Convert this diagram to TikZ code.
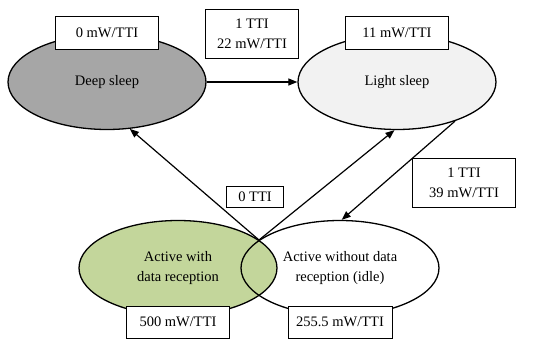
\documentclass[tikz,border=0pt]{standalone}
\usepackage{fontspec}
\setmainfont{Liberation Serif}
\usepackage{xcolor}
\usepackage{tikz}
\usetikzlibrary{arrows.meta, shapes.geometric}
\definecolor{stateDeep}{RGB}{166,166,166}
\definecolor{stateLight}{RGB}{242,242,242}
\definecolor{stateActive}{RGB}{195,214,155}
\tikzset{
  stateNode/.style={
    ellipse,
    draw=black,
    line width=1.3pt,
    inner sep=0pt,
    minimum width=198pt,
    minimum height=95pt,
    align=center,
    font=\fontsize{14.5}{20}\selectfont
  },
  deepNode/.style={stateNode, fill=stateDeep},
  lightNode/.style={stateNode, fill=stateLight},
  activeNode/.style={stateNode, fill=stateActive},
  idleNode/.style={stateNode},
  costBox/.style={
    rectangle,
    draw=black,
    line width=1pt,
    fill=white,
    inner sep=0pt,
    minimum height=33pt,
    align=center,
    font=\fontsize{14.5}{19.5}\selectfont
  },
  stateFlow/.style={-{Triangle[length=9pt,width=7pt]}, line width=1.2pt, draw=black}
}

\begin{document}
\begin{tikzpicture}[x=1pt, y=-1pt]
  \useasboundingbox (0,0) rectangle (550,345);

  \node[deepNode] (deep) at (107,82) {Deep sleep};
  \node[lightNode] (light) at (397,82) {Light sleep};
  \node[activeNode] (active) at (178,268) {Active with\\data reception};
  \node[idleNode] (idle) at (340,268) {Active without data\\reception (idle)};

  \coordinate (meet) at (259,240);

  \draw[stateFlow] (deep) -- (light);
  \draw[stateFlow] (meet) -- (deep.-64);
  \draw[stateFlow] (meet) -- (light.-93);
  \draw[stateFlow] (light.-34) -- (idle.88);

  \node[costBox, minimum width=103pt] (deepCost) at (107,33) {0 mW/TTI};
  \node[costBox, minimum width=103pt] (lightCost) at (397,33) {11 mW/TTI};
  \node[costBox, minimum width=93pt, minimum height=49pt] (wakeCost) at (252,34) {1 TTI\\22 mW/TTI};
  \node[costBox, minimum width=103pt, minimum height=49pt] (idleCost) at (464,183) {1 TTI\\39 mW/TTI};
  \node[costBox, minimum width=57pt, minimum height=21pt] (meetCost) at (255,197) {0 TTI};
  \node[costBox, minimum width=103pt, minimum height=32pt] (activeCost) at (178,322) {500 mW/TTI};
  \node[costBox, minimum width=104pt, minimum height=32pt] (idlePower) at (340,322) {255.5 mW/TTI};
\end{tikzpicture}
\end{document}
